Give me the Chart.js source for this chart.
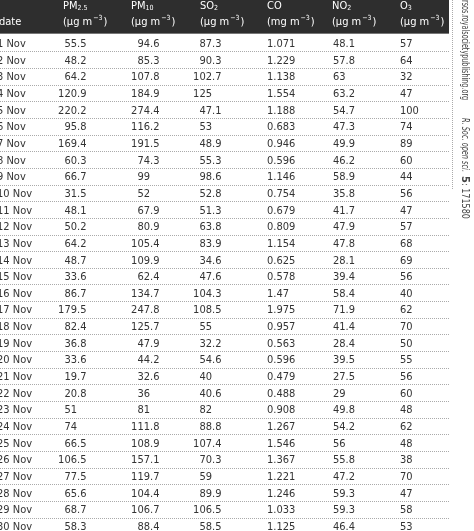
<!DOCTYPE html>
<html>
<head>
<meta charset="utf-8">
<script src="https://cdn.jsdelivr.net/npm/chart.js@4/dist/chart.umd.min.js"></script>
<style>
  html, body { margin: 0; padding: 0; background: #fff; }
  #tbl { display: block; }
</style>
</head>
<body>
<canvas id="tbl" width="474" height="531"></canvas>
<script>
const dates = ['1 Nov','2 Nov','3 Nov','4 Nov','5 Nov','6 Nov','7 Nov','8 Nov','9 Nov','10 Nov',
  '11 Nov','12 Nov','13 Nov','14 Nov','15 Nov','16 Nov','17 Nov','18 Nov','19 Nov','20 Nov',
  '21 Nov','22 Nov','23 Nov','24 Nov','25 Nov','26 Nov','27 Nov','28 Nov','29 Nov','30 Nov'];
const pm25 = ['55.5','48.2','64.2','120.9','220.2','95.8','169.4','60.3','66.7','31.5',
  '48.1','50.2','64.2','48.7','33.6','86.7','179.5','82.4','36.8','33.6',
  '19.7','20.8','51','74','66.5','106.5','77.5','65.6','68.7','58.3'];
const pm10 = ['94.6','85.3','107.8','184.9','274.4','116.2','191.5','74.3','99','52',
  '67.9','80.9','105.4','109.9','62.4','134.7','247.8','125.7','47.9','44.2',
  '32.6','36','81','111.8','108.9','157.1','119.7','104.4','106.7','88.4'];
const so2 = ['87.3','90.3','102.7','125','47.1','53','48.9','55.3','98.6','52.8',
  '51.3','63.8','83.9','34.6','47.6','104.3','108.5','55','32.2','54.6',
  '40','40.6','82','88.8','107.4','70.3','59','89.9','106.5','58.5'];
const co = ['1.071','1.229','1.138','1.554','1.188','0.683','0.946','0.596','1.146','0.754',
  '0.679','0.809','1.154','0.625','0.578','1.47','1.975','0.957','0.563','0.596',
  '0.479','0.488','0.908','1.267','1.546','1.367','1.221','1.246','1.033','1.125'];
const no2 = ['48.1','57.8','63','63.2','54.7','47.3','49.9','46.2','58.9','35.8',
  '41.7','47.9','47.8','28.1','39.4','58.4','71.9','41.4','28.4','39.5',
  '27.5','29','49.8','54.2','56','55.8','47.2','59.3','59.3','46.4'];
const o3 = ['57','64','32','47','100','74','89','60','44','56',
  '47','57','68','69','56','40','62','70','50','55',
  '56','60','48','62','48','38','70','47','58','53'];

// header: [name, subscript, unit]
const headers = [
  ['PM', '2.5', 'µg'], ['PM', '10', 'µg'], ['SO', '2', 'µg'],
  ['CO', '', 'mg'], ['NO', '2', 'µg'], ['O', '3', 'µg']
];

const FONT = "'DejaVu Sans Condensed', 'Liberation Sans Narrow', sans-serif";
// column layout: header x, and value alignment ('dec' = decimal point x, 'left' = left x)
const cols = [
  { vals: pm25, hx: 63, mode: 'dec', x: 77 },
  { vals: pm10, hx: 131, mode: 'dec', x: 150 },
  { vals: so2, hx: 200, mode: 'dec', x: 212 },
  { vals: co, hx: 267, mode: 'left', x: 267 },
  { vals: no2, hx: 332, mode: 'left', x: 333 },
  { vals: o3, hx: 400, mode: 'left', x: 400 }
];

const tablePlugin = {
  id: 'table',
  afterDraw(chart) {
    const c = chart.ctx, xs = chart.scales.x, ys = chart.scales.y;
    const X = v => xs.getPixelForValue(v);
    const Y = v => ys.getPixelForValue(v);
    const right = X(449);
    c.save();

    // header band
    c.fillStyle = '#2e2e2e';
    c.fillRect(X(0), Y(-2.58), right - X(0), Y(-0.56) - Y(-2.58));
    c.fillStyle = '#fff';
    c.textBaseline = 'alphabetic';
    c.textAlign = 'left';
    c.font = '11px ' + FONT;
    c.fillText('date', X(-1), Y(-1.05));
    headers.forEach((h, i) => {
      const x = X(cols[i].hx);
      c.font = '11px ' + FONT;
      c.fillText(h[0], x, Y(-2.05));
      let w = c.measureText(h[0]).width;
      if (h[1]) {
        c.font = '7px ' + FONT;
        c.fillText(h[1], x + w, Y(-1.95));
      }
      c.font = '11px ' + FONT;
      const u = '(' + h[2] + ' m';
      c.fillText(u, x, Y(-1.05));
      w = c.measureText(u).width;
      c.font = '7px ' + FONT;
      c.fillText('−3', x + w + 1, Y(-1.4));
      const w2 = c.measureText('−3').width;
      c.font = '11px ' + FONT;
      c.fillText(')', x + w + w2 + 2, Y(-1.05));
    });

    // rows
    c.font = '11px ' + FONT;
    c.fillStyle = '#333';
    dates.forEach((d, r) => {
      const y = Y(r) + 4;
      c.textAlign = 'left';
      c.fillText(d, X(-3), y);
      cols.forEach(col => {
        const v = col.vals[r];
        if (col.mode === 'left') {
          c.textAlign = 'left';
          c.fillText(v, X(col.x), y);
        } else {
          const parts = v.split('.');
          c.textAlign = 'right';
          c.fillText(parts[0], X(col.x), y);
          if (parts[1]) {
            c.textAlign = 'left';
            c.fillText('.' + parts[1], X(col.x), y);
          }
        }
      });
      // dotted separator
      if (r < dates.length - 1) {
        c.strokeStyle = '#aaa';
        c.lineWidth = 1;
        c.setLineDash([1, 1]);
        c.beginPath();
        const ly = Math.round(Y(r + 0.5)) + 0.5;
        c.moveTo(X(0), ly);
        c.lineTo(right, ly);
        c.stroke();
      }
    });

    // side journal text
    c.setLineDash([1, 1]);
    c.strokeStyle = '#aaa';
    c.beginPath();
    c.moveTo(X(452) + 0.5, Y(-2.58));
    c.lineTo(X(452) + 0.5, Y(8.8));
    c.stroke();
    c.setLineDash([]);
    c.translate(X(462), Y(-2.58));
    c.rotate(Math.PI / 2);
    c.fillStyle = '#444';
    c.textAlign = 'left';
    c.font = '11px ' + FONT;
    c.fillText('rsos.royalsocietypublishing.org', 0, 0, 100);
    c.font = 'italic 11px ' + FONT;
    c.fillText('R. Soc. open sci.', 118, 0, 54);
    const w = Math.min(c.measureText('R. Soc. open sci.').width, 54) + 4;
    c.font = 'bold 11px ' + FONT;
    c.fillText('5', 118 + w, 0);
    const w5 = c.measureText('5').width;
    c.font = '11px ' + FONT;
    c.fillText(': 171580', 118 + w + w5, 0, 36);
    c.restore();
  }
};

new Chart(document.getElementById('tbl'), {
  type: 'scatter',
  data: { datasets: [{ data: [] }] },
  options: {
    responsive: false,
    animation: false,
    layout: { padding: 0 },
    plugins: { legend: { display: false }, tooltip: { enabled: false } },
    scales: {
      x: { type: 'linear', min: 0, max: 474, display: false },
      y: { type: 'linear', min: -2.58, max: 29.3, reverse: true, display: false }
    }
  },
  plugins: [tablePlugin]
});
</script>
</body>
</html>
